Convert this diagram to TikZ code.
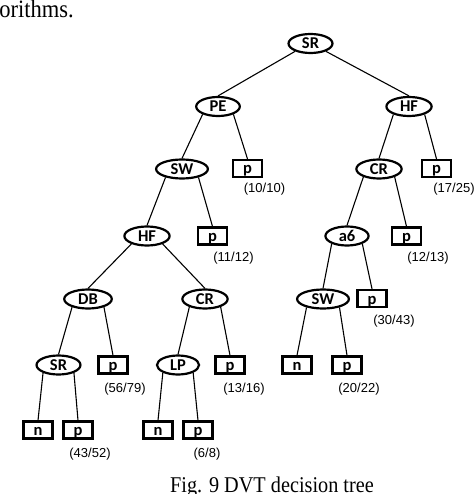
\documentclass[tikz,border=0pt]{standalone}
\usepackage{fontspec}
\setmainfont{Liberation Serif}
\newfontfamily\nodefont{Carlito}
\newfontfamily\labelfont{Liberation Sans}
\newfontfamily\capfont[FakeStretch=0.9]{Liberation Serif}
\usetikzlibrary{shapes.geometric}
\tikzset{
  attr/.style={ellipse, draw, line width=2.2pt, inner xsep=7pt, inner ysep=0pt,
    minimum height=19pt, text height=11pt, text depth=0pt,
    font=\nodefont\bfseries\fontsize{16.5}{16.5}\selectfont},
  leaf/.style={rectangle, draw, line width=2.2pt, inner sep=0pt,
    minimum width=29pt, minimum height=17pt, text height=11pt, text depth=0pt,
    font=\nodefont\bfseries\fontsize{16.5}{16.5}\selectfont},
  frac/.style={inner sep=0pt, font=\labelfont\fontsize{13}{13}\selectfont},
  edge/.style={line width=1.1pt},
  prose/.style={inner sep=0pt, font=\capfont\fontsize{25}{25}\selectfont},
  caption/.style={inner sep=0pt, font=\capfont\fontsize{22.5}{22.5}\selectfont}
}
\begin{document}
\begin{tikzpicture}[x=1pt, y=-1pt]
\useasboundingbox (0,0) rectangle (474,494);
\fill[white] (0,0) rectangle (474,494);

\node[prose, anchor=base east] (top) at (74,17.3) {orithms.};
\node[caption, anchor=base] (cap) at (272,492.5) {Fig. 9 DVT decision tree};

% internal nodes
\node[attr] (SRa) at (310.5,43.5) {SR};
\node[attr] (PE) at (218,106.5) {PE};
\node[attr] (HFa) at (409,106.5) {HF};
\node[attr] (SWa) at (182,169) {SW};
\node[attr] (CRa) at (379,169) {CR};
\node[attr] (HFb) at (147,236) {HF};
\node[attr] (A6) at (347,236) {a6};
\node[attr] (DB) at (88,299) {DB};
\node[attr] (CRb) at (205,299) {CR};
\node[attr] (SWb) at (323,299) {SW};
\node[attr] (SRb) at (58.5,365) {SR};
\node[attr] (LP) at (178,365) {LP};

% leaves
\node[leaf] (pA) at (247.5,168.5) {p};
\node[leaf] (pB) at (436.5,168.5) {p};
\node[leaf] (pC) at (212.5,236) {p};
\node[leaf] (pD) at (406.5,236) {p};
\node[leaf] (pE) at (372,298.5) {p};
\node[leaf] (pF) at (113,365) {p};
\node[leaf] (pG) at (230,365) {p};
\node[leaf] (nA) at (297,365) {n};
\node[leaf] (pH) at (347,365) {p};
\node[leaf] (nB) at (38,430) {n};
\node[leaf] (pI) at (78,430) {p};
\node[leaf] (nC) at (158,430) {n};
\node[leaf] (pJ) at (198,430) {p};

% fraction labels
\node[frac] (fA) at (264.5,189.5) {(10/10)};
\node[frac] (fB) at (454,189.5) {(17/25)};
\node[frac] (fC) at (233.5,258) {(11/12)};
\node[frac] (fD) at (428,258) {(12/13)};
\node[frac] (fE) at (394,321.5) {(30/43)};
\node[frac] (fF) at (125,389.5) {(56/79)};
\node[frac] (fG) at (244,389.5) {(13/16)};
\node[frac] (fH) at (359,389.5) {(20/22)};
\node[frac] (fI) at (90,454.5) {(43/52)};
\node[frac] (fJ) at (207,454.5) {(6/8)};

% edges
\draw[edge] (SRa.207) -- (PE.north);
\draw[edge] (SRa.333) -- (HFa.north);
\draw[edge] (PE.207) -- (SWa.north);
\draw[edge] (PE.333) -- (pA.north);
\draw[edge] (HFa.207) -- (CRa.north);
\draw[edge] (HFa.333) -- (pB.north);
\draw[edge] (SWa.207) -- (HFb.north);
\draw[edge] (SWa.333) -- (pC.north);
\draw[edge] (CRa.207) -- (A6.north);
\draw[edge] (CRa.333) -- (pD.north);
\draw[edge] (HFb.207) -- (DB.north);
\draw[edge] (HFb.333) -- (CRb.north);
\draw[edge] (A6.207) -- (SWb.north);
\draw[edge] (A6.333) -- (pE.north);
\draw[edge] (DB.207) -- (SRb.north);
\draw[edge] (DB.333) -- (pF.north);
\draw[edge] (CRb.207) -- (LP.north);
\draw[edge] (CRb.333) -- (pG.north);
\draw[edge] (SWb.207) -- (nA.north);
\draw[edge] (SWb.333) -- (pH.north);
\draw[edge] (SRb.207) -- (nB.north);
\draw[edge] (SRb.333) -- (pI.north);
\draw[edge] (LP.207) -- (nC.north);
\draw[edge] (LP.333) -- (pJ.north);
\end{tikzpicture}
\end{document}
